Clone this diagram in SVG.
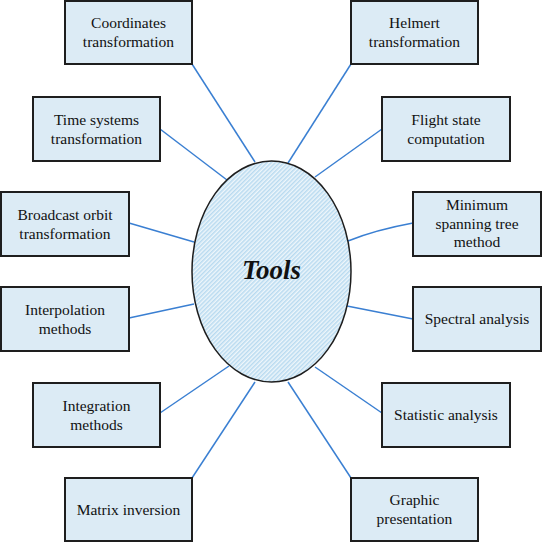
<svg xmlns="http://www.w3.org/2000/svg" width="543" height="543" viewBox="0 0 543 543">
<defs>
<pattern id="hatch" patternUnits="userSpaceOnUse" width="3" height="3" patternTransform="rotate(45)">
<rect width="3" height="3" fill="#eef6fb"/>
<rect width="1.5" height="3" fill="#b8daf0"/>
</pattern>
<style>
.box{fill:#dcebf5;stroke:#1e1e1e;stroke-width:2}
.con{stroke:#3a7fd2;stroke-width:1.5;fill:none}
text{font-family:'Times New Roman','Liberation Serif','DejaVu Serif',serif}
</style>
</defs>
<g id="connectors">
<line class="con" x1="192" y1="64" x2="255" y2="162"/>
<line class="con" x1="160" y1="129" x2="227" y2="180"/>
<line class="con" x1="351" y1="64" x2="288" y2="163"/>
<line class="con" x1="382" y1="129" x2="315" y2="177"/>
<line class="con" x1="129" y1="223" x2="194" y2="242"/>
<line class="con" x1="129" y1="318" x2="194" y2="304"/>
<path class="con" d="M348,241 Q375,230 413,223"/>
<line class="con" x1="413" y1="319" x2="347" y2="306"/>
<line class="con" x1="160" y1="413" x2="229" y2="366"/>
<line class="con" x1="192" y1="478" x2="255" y2="382"/>
<line class="con" x1="382" y1="413" x2="315" y2="367"/>
<line class="con" x1="351" y1="478" x2="288" y2="382"/>
</g>
<g id="tools">
<ellipse cx="271.5" cy="271.5" rx="79.5" ry="110.5" fill="url(#hatch)" stroke="#1e1e1e" stroke-width="1.5"/>
<text x="271.5" y="279" font-size="27" font-weight="bold" font-style="italic" text-anchor="middle" fill="#111">Tools</text>
</g>
<g font-size="15.5" font-weight="normal" font-style="normal" fill="#111" text-anchor="middle">
<g id="coordinates">
<rect class="box" x="65" y="1" width="127" height="63"/>
<text x="128.5" y="28">Coordinates</text>
<text x="128.5" y="47">transformation</text>
</g>
<g id="time">
<rect class="box" x="33" y="97" width="127" height="64"/>
<text x="96.5" y="124.5">Time systems</text>
<text x="96.5" y="143.5">transformation</text>
</g>
<g id="broadcast">
<rect class="box" x="1" y="192" width="128" height="64"/>
<text x="65" y="219.5">Broadcast orbit</text>
<text x="65" y="238.5">transformation</text>
</g>
<g id="interpolation">
<rect class="box" x="1" y="287" width="128" height="64"/>
<text x="65" y="314.5">Interpolation</text>
<text x="65" y="333.5">methods</text>
</g>
<g id="integration">
<rect class="box" x="33" y="383" width="127" height="64"/>
<text x="96.5" y="410.5">Integration</text>
<text x="96.5" y="429.5">methods</text>
</g>
<g id="matrix">
<rect class="box" x="65" y="478" width="127" height="63"/>
<text x="128.5" y="514.5">Matrix inversion</text>
</g>
<g id="helmert">
<rect class="box" x="351" y="1" width="127" height="63"/>
<text x="414.5" y="28">Helmert</text>
<text x="414.5" y="47">transformation</text>
</g>
<g id="flight">
<rect class="box" x="382" y="97" width="128" height="64"/>
<text x="446" y="124.5">Flight state</text>
<text x="446" y="143.5">computation</text>
</g>
<g id="mst">
<rect class="box" x="413" y="192" width="128" height="64"/>
<text x="477" y="210">Minimum</text>
<text x="477" y="228.5">spanning tree</text>
<text x="477" y="247">method</text>
</g>
<g id="spectral">
<rect class="box" x="413" y="287" width="128" height="64"/>
<text x="477" y="324">Spectral analysis</text>
</g>
<g id="statistic">
<rect class="box" x="382" y="383" width="128" height="64"/>
<text x="446" y="420">Statistic analysis</text>
</g>
<g id="graphic">
<rect class="box" x="351" y="478" width="127" height="63"/>
<text x="414.5" y="505">Graphic</text>
<text x="414.5" y="524">presentation</text>
</g>
</g>
</svg>
